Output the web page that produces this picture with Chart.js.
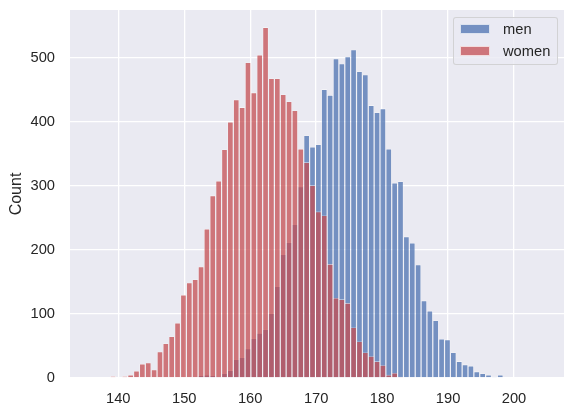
<!DOCTYPE html>
<html lang="en">
<head>
<meta charset="UTF-8">
<title>men / women height histogram</title>
<script src="https://cdn.jsdelivr.net/npm/chart.js@4.4.1/dist/chart.umd.min.js"></script>
<style>
    body { margin:0; background:#fff; }
    #wrap { position:relative; width:575px; height:416px; }
    #legend {
        position:absolute; left:453px; top:17px; width:103px; height:46px;
        border:1px solid rgba(204,204,204,0.8); border-radius:3px;
        background:rgba(234,234,242,0.8);
        font:14.7px "Liberation Sans", Arial, sans-serif; color:#262626;
    }
    .item { position:absolute; left:6px; height:18px; display:flex; align-items:center; }
    .swatch { width:30px; height:10px; margin-right:13px; box-sizing:border-box; border:0.6px solid rgba(255,255,255,0.75); }
</style>
</head>
<body>
<div id="wrap">
    <canvas id="myChart" width="575" height="416"></canvas>
    <div id="legend"></div>
</div>
<script>
// bins: common bin edges for both groups (cm)
var v_binStart = 136.09;
var v_binWidth = 0.8896;

// counts per bin (77 bins)
var v_men = [
    0,0,0,0,0,0,0,0,0,0,
    0,0,0,0,0,0,1,0,4,5,
    4,2,7,12,29,32,46,62,70,76,
    101,143,193,212,240,299,379,361,365,451,
    442,499,491,502,513,479,474,426,415,421,
    358,305,307,221,211,177,121,105,90,61,
    60,40,26,21,19,10,7,5,2,5,
    0,0,0,0,0,0,0
];
var v_women = [
    0,0,0,3,1,3,5,11,22,24,
    13,41,54,65,86,130,149,154,174,233,
    285,308,357,400,435,423,493,446,505,548,
    468,468,443,432,418,358,337,301,260,254,
    178,125,123,117,79,57,40,34,26,20,
    5,8,2,1,0,1,0,0,0,0,
    0,0,0,0,0,0,0,0,0,0,
    0,0,0,0,0,0,0
];

var v_xTicks = [140,150,160,170,180,190,200];
var v_yTicks = [0,100,200,300,400,500];

var v_binCenters = v_men.map(function(p_v, i){ return v_binStart + (i + 0.5) * v_binWidth; });

var f_points = function(p_counts){
    return p_counts.map(function(p_v, i){ return {x: v_binCenters[i], y: p_v}; });
};

var v_font = '"Liberation Sans", Arial, sans-serif';
Chart.defaults.font.family = v_font;
Chart.defaults.color = '#262626';

// grey plot background (seaborn darkgrid)
var v_bgPlugin = {
    id: 'plotBg',
    beforeDraw: function(chart){
        var a = chart.chartArea, c = chart.ctx;
        c.save();
        c.fillStyle = '#eaeaf2';
        c.fillRect(a.left, a.top, a.right - a.left, a.bottom - a.top);
        c.restore();
    }
};

var ctx = document.getElementById('myChart').getContext('2d');
var myChart = new Chart(ctx, {
    type: 'bar',
    data: {
        datasets: [{
            label: 'men',
            data: f_points(v_men),
            backgroundColor: 'rgba(76,114,176,0.75)',
            order: 1
        }, {
            label: 'women',
            data: f_points(v_women),
            backgroundColor: 'rgba(196,78,82,0.75)',
            order: 0   // drawn on top
        }]
    },
    options: {
        responsive: false,
        animation: false,
        events: [],
        layout: { padding: { left: 0, right: 11, top: 10, bottom: 0 } },
        datasets: {
            bar: {
                grouped: false,
                barPercentage: 1,
                categoryPercentage: 1,
                inflateAmount: 0,
                borderWidth: 0.6,
                borderColor: 'rgba(255,255,255,0.75)'
            }
        },
        plugins: {
            legend: { display: false },
            tooltip: { enabled: false }
        },
        scales: {
            x: {
                type: 'linear',
                min: 132.68,
                max: 207.58,
                offset: false,
                border: { display: false },
                grid: { color: '#ffffff', lineWidth: 1.3, drawTicks: false, offset: false },
                afterBuildTicks: function(s){ s.ticks = v_xTicks.map(function(v){ return {value: v}; }); },
                ticks: { padding: 12, font: { size: 14.7 }, color: '#262626' },
                afterFit: function(s){ s.height = 38; }
            },
            y: {
                min: 0,
                max: 575,
                border: { display: false },
                grid: { color: '#ffffff', lineWidth: 1.3, drawTicks: false },
                afterBuildTicks: function(s){ s.ticks = v_yTicks.map(function(v){ return {value: v}; }); },
                ticks: { padding: 15, font: { size: 14.7 }, color: '#262626' },
                title: { display: true, text: 'Count', font: { size: 16 }, color: '#262626', padding: { top: 7, bottom: 0 } },
                afterFit: function(s){ s.width = 70; s.paddingTop = 0; s.paddingBottom = 0; }
            }
        }
    },
    plugins: [v_bgPlugin]
});

// legend drawn in html, inside the plot, top right
var v_legend = document.getElementById('legend');
myChart.data.datasets.forEach(function(p_ds, i){
    var v_item = document.createElement('div');
    v_item.className = 'item';
    v_item.style.top = (2 + i * 22) + 'px';
    var v_sw = document.createElement('span');
    v_sw.className = 'swatch';
    v_sw.style.background = p_ds.backgroundColor;
    var v_txt = document.createElement('span');
    v_txt.textContent = p_ds.label;
    v_item.appendChild(v_sw);
    v_item.appendChild(v_txt);
    v_legend.appendChild(v_item);
});
</script>
</body>
</html>
